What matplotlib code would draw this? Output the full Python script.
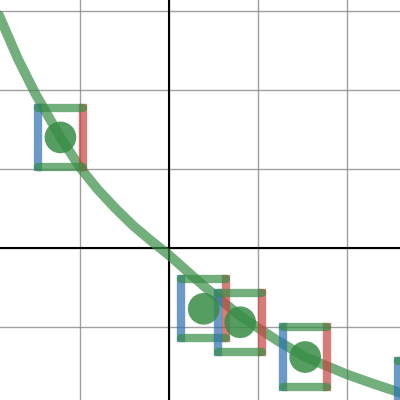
import numpy as np
import matplotlib
matplotlib.use("Agg")
import matplotlib.pyplot as plt

curve_x = [-1.95, -1.7, -1.5, -1.22, -1.0, -0.8, -0.6, -0.4, -0.2, 0.0, 0.4, 0.8, 1.2, 1.53, 2.0, 2.3, 2.65]
curve_y = [3.05, 2.4, 1.95, 1.40, 1.02, 0.74, 0.50, 0.28, 0.09, -0.09, -0.49, -0.86, -1.16, -1.38, -1.60, -1.72, -1.85]
pts_x = [-1.22, 0.39, 0.80, 1.53, 2.82]
pts_y = [1.40, -0.77, -0.94, -1.38, -1.80]
box_w = 0.5
box_h = 0.75

green = "#388c46"; blue = "#2d70b3"; red = "#c74440"
fig = plt.figure(figsize=(4, 4), dpi=100)
ax = fig.add_axes([0, 0, 1, 1])
xmin, xmax = -169/89, 231/89
ymin, ymax = -152/79, 248/79
ax.set_xlim(xmin, xmax); ax.set_ylim(ymin, ymax)
for gx in range(-2, 4):
    ax.axvline(gx, color="#888888", lw=1, alpha=0.8, zorder=0)
for gy in range(-2, 4):
    ax.axhline(gy, color="#888888", lw=1, alpha=0.8, zorder=0)
ax.axvline(0, color="black", lw=1.5, zorder=1)
ax.axhline(0, color="black", lw=1.5, zorder=1)
ax.set_xticks([]); ax.set_yticks([])
for s in ax.spines.values(): s.set_visible(False)

ax.plot(curve_x, curve_y, color=green, lw=7, alpha=0.7, solid_capstyle="round", solid_joinstyle="round", zorder=2)
for x, y in zip(pts_x, pts_y):
    l, r = x - box_w/2, x + box_w/2
    b, t = y - box_h/2, y + box_h/2
    ax.plot([l, l], [b, t], color=blue, lw=6, alpha=0.7, zorder=3)
    ax.plot([r, r], [b, t], color=red, lw=6, alpha=0.7, zorder=3)
    ax.plot([l, r], [t, t], color=green, lw=6, alpha=0.7, zorder=3, solid_capstyle="round")
    ax.plot([l, r], [b, b], color=green, lw=6, alpha=0.7, zorder=3, solid_capstyle="round")
ax.scatter(pts_x, pts_y, s=520, color=green, alpha=0.85, zorder=4, edgecolors="none")
fig.savefig("out.png", dpi=100)
